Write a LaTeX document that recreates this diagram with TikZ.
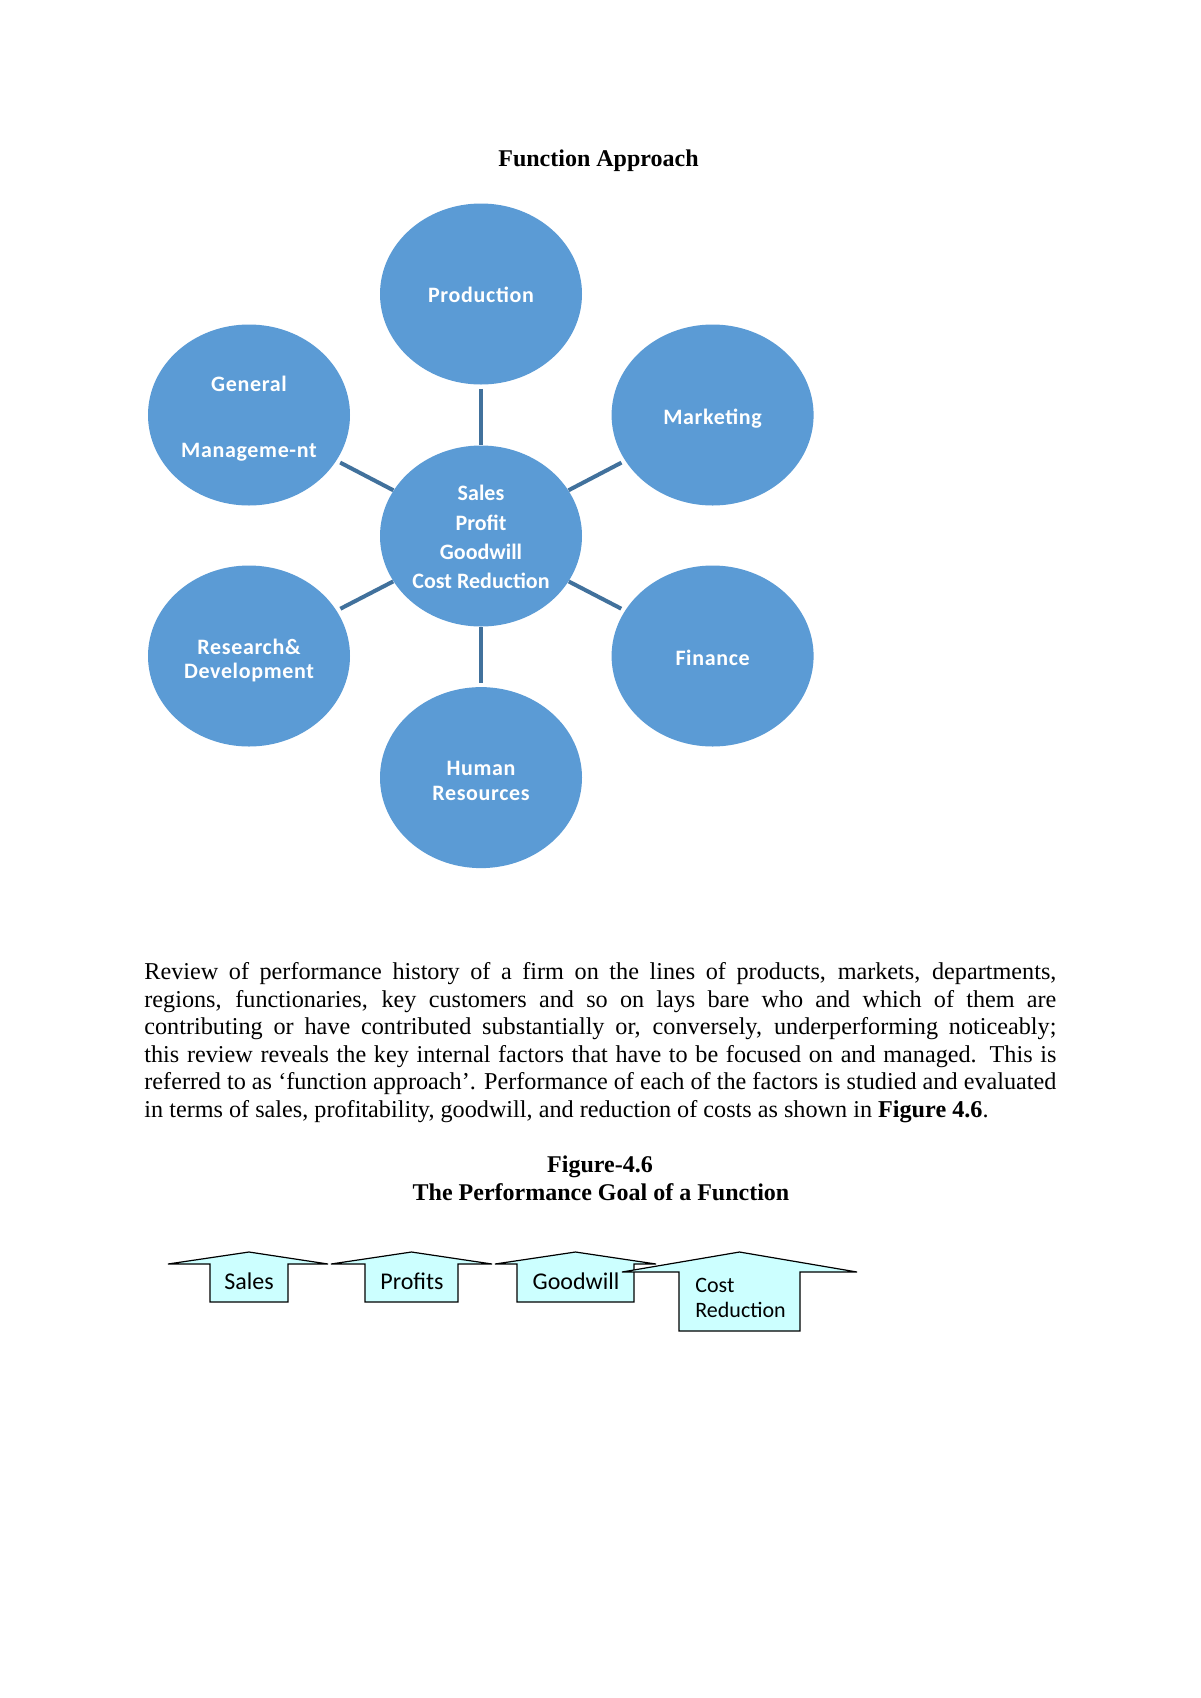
\documentclass[tikz,border=0pt]{standalone}
\usepackage{fontspec}
\setmainfont{Liberation Serif}
\newfontfamily\calfont{Carlito}
\newfontfamily\calfontsp[LetterSpace=3]{Carlito}
\usetikzlibrary{shapes.geometric}
\definecolor{circblue}{HTML}{5B9BD5}
\definecolor{linkblue}{HTML}{41719C}
\definecolor{boxcyan}{HTML}{CCFFFF}
\tikzset{
  func/.style={ellipse, fill=circblue, minimum width=101pt, minimum height=90.5pt,
    inner sep=0pt, text=white, align=center},
  outerfont/.style={font=\calfontsp\bfseries\fontsize{11}{#1}\selectfont},
  oneline/.style={text height=9pt, text depth=0pt},
  link/.style={draw=linkblue, line width=2pt, shorten <=2pt},
  goalbox/.style={draw=black, fill=boxcyan, line width=0.6pt, line join=miter},
  goaltext/.style={font=\calfont\fontsize{12}{14}\selectfont, inner sep=0pt, anchor=base},
  headtext/.style={font=\bfseries\fontsize{12}{14}\selectfont, inner sep=0pt, anchor=base}
}
\begin{document}
\begin{tikzpicture}[x=0.5pt,y=-0.5pt]
\useasboundingbox[fill=white] (0,0) rectangle (1200,1698);

% title
\node[headtext] (title) at (598.5,166.5) {Function Approach};

% circles
\node[func, outerfont=13, text height=8pt, text depth=0pt] (prod) at (481,294) {Production};
\node[func, outerfont=33] (gm) at (249,415) {\rule{0pt}{11.1pt}General\\Manageme-nt};
\node[func, outerfont=13, oneline] (mkt) at (712.6,415) {Marketing};
\node[func, font=\calfont\bfseries\fontsize{11}{14.65}\selectfont] (ctr) at (481,536) {\rule{0pt}{8.8pt}Sales\\Profit\\Goodwill\\Cost Reduction};
\node[func, outerfont=11.75] (rd) at (249,656) {\rule{0pt}{12.1pt}Research\&\\Development};
\node[func, outerfont=13, oneline] (fin) at (712.6,656) {Finance};
\node[func, outerfont=12.3] (hr) at (481,777.6) {\rule{0pt}{10.4pt}Human\\Resources};

% connectors
\draw[link] (prod) -- (ctr);
\draw[link] (gm) -- (ctr);
\draw[link] (mkt) -- (ctr);
\draw[link] (rd) -- (ctr);
\draw[link] (fin) -- (ctr);
\draw[link] (hr) -- (ctr);

% paragraph
\node[anchor=north west, inner sep=0pt, text width=456pt, align=justify,
  font=\fontsize{12.1}{13.8}\selectfont] (para) at (144,959.7)
{\hyphenpenalty=10000\strut Review of performance history of a firm on the lines of products, markets, departments,\linebreak
regions, functionaries, key customers and so on lays bare who and which of them are\linebreak
contributing or have contributed substantially or, conversely, underperforming noticeably;\linebreak
this review reveals the key internal factors that have to be focused on and managed. This is\linebreak
referred to as `function approach'. Performance of each of the factors is studied and evaluated\linebreak
in terms of sales, profitability, goodwill, and reduction of costs as shown in {\bfseries Figure 4.6}.};

% caption
\node[headtext] (figno) at (600,1172.7) {Figure-4.6};
\node[headtext] (figtitle) at (601,1200.8) {The Performance Goal of a Function};

% goal arrows
\draw[goalbox] (168,1264) -- (249,1252) -- (328,1264) -- (288,1264) -- (288,1302) -- (210,1302) -- (210,1264) -- cycle;
\draw[goalbox] (331,1264) -- (411.5,1252) -- (492,1264) -- (458,1264) -- (458,1302) -- (365,1302) -- (365,1264) -- cycle;
\draw[goalbox] (495,1264) -- (575.5,1252) -- (656,1264) -- (634,1264) -- (634,1302) -- (517,1302) -- (517,1264) -- cycle;
\draw[goalbox] (622,1272) -- (739.5,1252) -- (857,1272) -- (800,1272) -- (800,1331) -- (679,1331) -- (679,1272) -- cycle;

\node[goaltext] (tsales) at (249,1289) {Sales};
\node[goaltext] (tprofits) at (412,1289) {Profits};
\node[goaltext] (tgoodwill) at (576,1289) {Goodwill};
\node[goaltext, anchor=base west, font=\calfont\fontsize{11}{13}\selectfont] (tcost) at (695,1292) {Cost};
\node[goaltext, anchor=base west, font=\calfont\fontsize{11}{13}\selectfont] (tred) at (695,1317) {Reduction};
\end{tikzpicture}
\end{document}
